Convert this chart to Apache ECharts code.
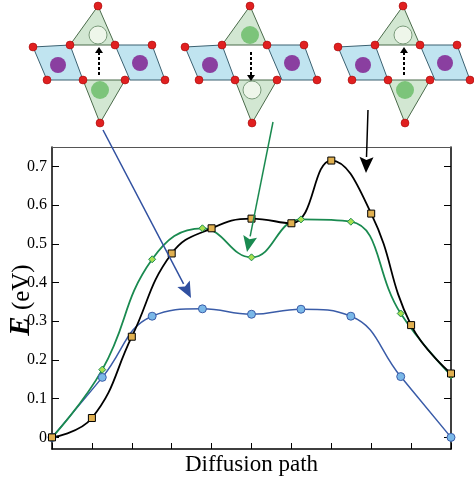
<!DOCTYPE html>
<html>
<head>
<meta charset="utf-8">
<script src="https://cdn.jsdelivr.net/npm/echarts@6/dist/echarts.min.js"></script>
<style>html,body{margin:0;padding:0;background:#fff}#main{width:474px;height:479px}</style>
</head>
<body>
<div id="main"></div>
<script>
// data (x = image index along the path)
var blackX = [0, 1, 2, 3, 4, 5, 6, 7, 8, 9, 10];
var blackY = [0, 0.05, 0.26, 0.475, 0.54, 0.565, 0.553, 0.715, 0.578, 0.29, 0.165];
var greenX = [0, 1.26, 2.51, 3.77, 5, 6.24, 7.49, 8.74, 10];
var greenY = [0, 0.175, 0.46, 0.54, 0.465, 0.563, 0.557, 0.32, 0.16];
var blueX = [0, 1.26, 2.51, 3.77, 5, 6.24, 7.49, 8.74, 10];
var blueY = [0, 0.155, 0.313, 0.332, 0.318, 0.331, 0.313, 0.157, 0];
var yTicks = ['0', '0.1', '0.2', '0.3', '0.4', '0.5', '0.6', '0.7'];
var yTickVals = [0, 0.1, 0.2, 0.3, 0.4, 0.5, 0.6, 0.7];

function pairs(xs, ys) {
	return xs.map(function(x, i) { return [x, ys[i]]; });
}

// simplified crystal sketch: two blue rhombs + green tetrahedra
function structure(cx, topFilled, arrowUp) {
	var g = [];
	var blue = {fill: 'rgba(150,210,230,0.6)', stroke: '#3a6070', lineWidth: 1};
	var green = {fill: 'rgba(180,215,180,0.6)', stroke: '#4a6a4a', lineWidth: 1};
	g.push({type: 'polygon', shape: {points: [[cx-65,47],[cx-28,45],[cx-15,80],[cx-51,80]]}, style: blue});
	g.push({type: 'polygon', shape: {points: [[cx+17,45],[cx+54,45],[cx+67,80],[cx+32,80]]}, style: blue});
	g.push({type: 'polygon', shape: {points: [[cx,6],[cx-28,45],[cx+17,45]]}, style: green});
	g.push({type: 'polygon', shape: {points: [[cx-15,80],[cx+27,80],[cx+2,123]]}, style: green});
	g.push({type: 'circle', shape: {cx: cx-40, cy: 65, r: 8}, style: {fill: '#8a3fa0'}});
	g.push({type: 'circle', shape: {cx: cx+42, cy: 63, r: 8}, style: {fill: '#8a3fa0'}});
	g.push({type: 'circle', shape: {cx: cx, cy: 35, r: 9}, style: topFilled ? {fill: '#7cc47a'} : {fill: '#eef6ea', stroke: '#7a9a7a'}});
	g.push({type: 'circle', shape: {cx: cx+2, cy: 90, r: 9}, style: topFilled ? {fill: '#eef6ea', stroke: '#7a9a7a'} : {fill: '#7cc47a'}});
	g.push({type: 'line', shape: {x1: cx+1, y1: 52, x2: cx+1, y2: 76}, style: {stroke: '#000', lineWidth: 2, lineDash: [3, 2]}});
	var tipY = arrowUp ? 47 : 81;
	var d = arrowUp ? 6 : -6;
	g.push({type: 'polygon', shape: {points: [[cx+1,tipY],[cx-3,tipY+d],[cx+5,tipY+d]]}, style: {fill: '#000'}});
	var ox = [[cx,6],[cx-28,45],[cx+17,45],[cx-65,47],[cx+54,45],[cx-51,80],[cx-15,80],[cx+27,80],[cx+67,80],[cx+2,123]];
	ox.forEach(function(p) {
		g.push({type: 'circle', shape: {cx: p[0], cy: p[1], r: 4}, style: {fill: '#e02020', stroke: '#900', lineWidth: 0.5}});
	});
	return g;
}

function arrow(x1, y1, x2, y2, color) {
	var a = Math.atan2(y2 - y1, x2 - x1), L = 16, W = 7;
	var bx = x2 - L * Math.cos(a), by = y2 - L * Math.sin(a);
	var nx = -Math.sin(a) * W, ny = Math.cos(a) * W;
	return [
		{type: 'line', z: 10, shape: {x1: x1, y1: y1, x2: bx, y2: by}, style: {stroke: color, lineWidth: 1.5}},
		{type: 'polygon', z: 10, shape: {points: [[x2,y2],[bx+nx,by+ny],[bx+3*Math.cos(a),by+3*Math.sin(a)],[bx-nx,by-ny]]}, style: {fill: color}}
	];
}

var serif = 'Liberation Serif';
var myChart = echarts.init(document.getElementById('main'));
var graphics = [].concat(
	structure(98, false, true),
	structure(250, true, false),
	structure(403, false, true),
	arrow(103, 130, 191, 298, '#3050a0'),
	arrow(273, 122, 247, 252, '#1a8a50'),
	arrow(368, 110, 366, 173, '#000'),
	[{
		type: 'text', x: 22, y: 300, rotation: Math.PI / 2,
		style: {
			text: '{e|E} (eV)', align: 'center', verticalAlign: 'middle',
			font: '25px "Liberation Serif"', fill: '#000',
			rich: {e: {fontFamily: serif, fontSize: 29, fontStyle: 'italic', fontWeight: 'bold'}}
		}
	}]
);

var option = {
	animation: false,
	grid: {left: 52, right: 23, top: 147, bottom: 30, containLabel: false, outerBoundsMode: 'none'},
	graphic: graphics,
	xAxis: [{
		type: 'value', min: 0, max: 10, interval: 1,
		name: 'Diffusion path', nameLocation: 'middle', nameGap: 4,
		nameTextStyle: {fontFamily: serif, fontSize: 23, color: '#000', verticalAlign: 'top'},
		axisLine: {onZero: false, lineStyle: {color: '#000', width: 1.5}},
		axisTick: {inside: true, length: 6, lineStyle: {color: '#000'}},
		axisLabel: {show: false}, splitLine: {show: false}
	}, {
		type: 'value', min: 0, max: 10, position: 'top',
		axisLine: {onZero: false, lineStyle: {color: '#555'}},
		axisTick: {show: false}, axisLabel: {show: false}, splitLine: {show: false}
	}],
	yAxis: [{
		type: 'value', min: -0.03, max: 0.75,
		axisLine: {onZero: false, lineStyle: {color: '#000', width: 1.5}},
		axisTick: {inside: true, length: 7, lineStyle: {color: '#000'}, customValues: yTickVals},
		axisLabel: {customValues: yTickVals, fontFamily: serif, fontSize: 16, color: '#000', margin: 5,
			formatter: function(v) { return yTicks[Math.round(v * 10)]; }},
		splitLine: {show: false}
	}, {
		type: 'value', min: -0.03, max: 0.75, position: 'right',
		axisLine: {onZero: false, lineStyle: {color: '#000', width: 1.5}},
		axisTick: {inside: true, length: 7, lineStyle: {color: '#000'}, customValues: yTickVals},
		axisLabel: {show: false}, splitLine: {show: false}
	}],
	series: [{
		type: 'line', smooth: 0.45, data: pairs(blueX, blueY),
		lineStyle: {color: '#3a5ca8', width: 1.5},
		symbol: 'circle', symbolSize: 8,
		itemStyle: {color: '#7ab8e8', borderColor: '#3a5ca8', borderWidth: 1}
	}, {
		type: 'line', smooth: 0.45, data: pairs(greenX, greenY),
		lineStyle: {color: '#1a8a50', width: 1.8},
		symbol: 'diamond', symbolSize: 7,
		itemStyle: {color: '#a8e050', borderColor: '#1a8a50', borderWidth: 1}
	}, {
		type: 'line', smooth: 0.45, data: pairs(blackX, blackY),
		lineStyle: {color: '#000', width: 1.8},
		symbol: 'rect', symbolSize: 7,
		itemStyle: {color: '#e0b050', borderColor: '#000', borderWidth: 1}
	}]
};
myChart.setOption(option);
</script>
</body>
</html>
